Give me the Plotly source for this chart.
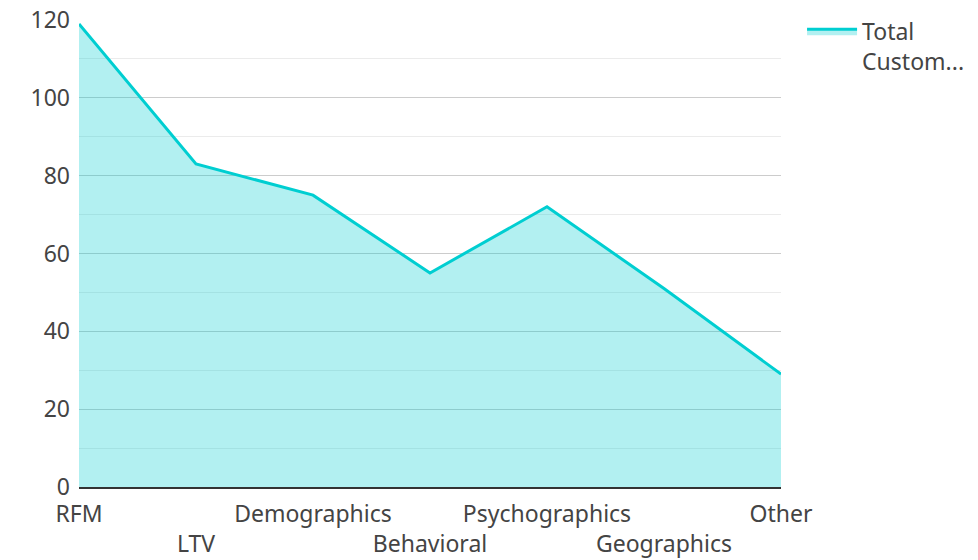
import plotly.graph_objects as go

categories = ["RFM", "LTV", "Demographics", "Behavioral", "Psychographics", "Geographics", "Other"]
values = [119, 83, 75, 55, 72, 51, 29]
series_name = "Total<br>Custom..."
y_ticks = [0, 20, 40, 60, 80, 100, 120]

positions = list(range(len(categories)))
tick_text = [c if i % 2 == 0 else "<br>" + c for i, c in enumerate(categories)]

fig = go.Figure()
fig.add_trace(go.Scatter(
    x=positions, y=values, mode="lines", name=series_name,
    line=dict(color="#00CED1", width=3),
    fill="tozeroy", fillcolor="rgba(0,206,209,0.3)",
))

font = dict(family="Noto Sans, Open Sans, sans-serif", size=23, color="#444")
fig.update_layout(
    width=978, height=560,
    margin=dict(l=79, r=197, t=20, b=73, autoexpand=False),
    plot_bgcolor="white", paper_bgcolor="white",
    font=font,
    showlegend=True,
    legend=dict(x=1.03, y=1.022, xanchor="left", yanchor="top", font=font,
                itemwidth=50, valign="top", bgcolor="rgba(0,0,0,0)"),
    xaxis=dict(range=[0, len(categories) - 1], tickmode="array",
               tickvals=positions, ticktext=tick_text, showgrid=False,
               showline=True, linecolor="#333", linewidth=2, zeroline=False,
               ticks="", tickfont=font, tickangle=0, automargin=False,
               ticklabelstandoff=5),
    yaxis=dict(range=[0, 120], tickmode="array", tickvals=y_ticks,
               showgrid=True, gridcolor="#ccc", gridwidth=1, zeroline=False,
               showline=False, ticks="", tickfont=font, ticklabelstandoff=8,
               automargin=False,
               minor=dict(dtick=10, showgrid=True, gridcolor="#ebebeb")),
)
fig.write_html("out.html")
